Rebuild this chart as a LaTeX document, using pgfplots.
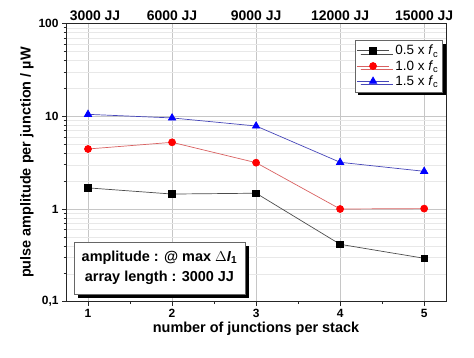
\documentclass[border=0pt]{standalone}
\usepackage{pgfplots}
\pgfplotsset{compat=1.18}
\usepackage{fontspec}
\setmainfont{Liberation Sans}
\usetikzlibrary{shadows}
\begin{document}
\begin{tikzpicture}
\useasboundingbox (-66bp,-56.3bp) rectangle (408bp,301.7bp);
\begin{axis}[
  at={(0,0)}, anchor=south west,
  scale only axis, width=380bp, height=278.1bp,
  xmin=0.738, xmax=5.26,
  ymode=log, ymin=0.1, ymax=100,
  xtick={1,2,3,4,5}, minor x tick num=1,
  ytick={0.1,1,10,100}, yticklabels={0{,}1,1,10,100},
  tick pos=left, tick align=outside,
  major tick length=4bp, minor tick length=2.5bp,
  xmajorgrids, ymajorgrids, yminorgrids,
  major grid style={gray!45, line width=0.6pt},
  minor grid style={gray!18, line width=0.5pt},
  axis line style={line width=0.9pt, black!85},
  tick style={line width=0.7pt, black!85},
  /pgf/number format/assume math mode=true,
  tick label style={font=\bfseries\fontsize{12}{13}\selectfont},
  xlabel={number of junctions per stack},
  ylabel={pulse amplitude per junction / µW},
  label style={font=\bfseries\fontsize{14.5}{16}\selectfont},
  xlabel style={yshift=3bp},
  ylabel style={yshift=-2bp},
  legend style={at={(rel axis cs:0.991,0.941)}, anchor=north east,
    draw=black!60, fill=white, font=\fontsize{13.5}{15}\selectfont,
    drop shadow={opacity=1, shadow xshift=3.5bp, shadow yshift=-3.5bp, fill=black},
    row sep=0bp, inner xsep=2bp, inner ysep=3bp,
    /tikz/every odd column/.append style={column sep=4bp}},
  legend cell align=left,
  legend image code/.code={
    \draw[mark repeat=2, mark phase=2, #1] plot coordinates {(0bp,0bp) (16bp,0bp) (32bp,0bp)};
  },
]
\addplot[gray!60!black, line width=0.7pt, mark=square*, mark size=3.3bp,
  mark options={fill=black, draw=black, solid}]
  coordinates {(1,1.69) (2,1.45) (3,1.48) (4,0.416) (5,0.294)};
\addlegendentry{0.5 x \textit{f}\textsubscript{c}}
\addplot[red!55!white!85!black, line width=0.7pt, mark=*, mark size=3.5bp,
  mark options={fill=red, draw=red, solid}]
  coordinates {(1,4.44) (2,5.24) (3,3.16) (4,1.0) (5,1.01)};
\addlegendentry{1.0 x \textit{f}\textsubscript{c}}
\addplot[blue!45!gray, line width=0.7pt, mark=triangle*, mark size=4.2bp,
  mark options={fill=blue, draw=blue, solid}]
  coordinates {(1,10.5) (2,9.6) (3,7.86) (4,3.19) (5,2.55)};
\addlegendentry{1.5 x \textit{f}\textsubscript{c}}
\node[draw=black!60, fill=white, align=center,
  font=\bfseries\fontsize{14.5}{16}\selectfont,
  minimum width=171bp, minimum height=52bp, inner sep=2bp,
  drop shadow={opacity=1, shadow xshift=4bp, shadow yshift=-4bp, fill=black}]
  at (rel axis cs:0.246,0.121)
  {amplitude : @ max $\Delta$\textit{I}\textsubscript{1}\\[4bp] array length : 3000 JJ};
\end{axis}
\begin{axis}[
  at={(0,0)}, anchor=south west,
  scale only axis, width=380bp, height=278.1bp,
  xmin=0.738, xmax=5.26, ymin=0, ymax=1,
  axis x line*=top, axis y line=none,
  xtick={1,2,3,4,5},
  xticklabels={\hspace*{14bp}3000 JJ,6000 JJ,9000 JJ,12000 JJ,15000 JJ},
  major tick length=0pt,
  axis line style={line width=0.9pt, black!85},
  tick label style={font=\bfseries\fontsize{14}{15}\selectfont},
  xticklabel style={yshift=-1bp},
]
\end{axis}
\end{tikzpicture}
\end{document}
